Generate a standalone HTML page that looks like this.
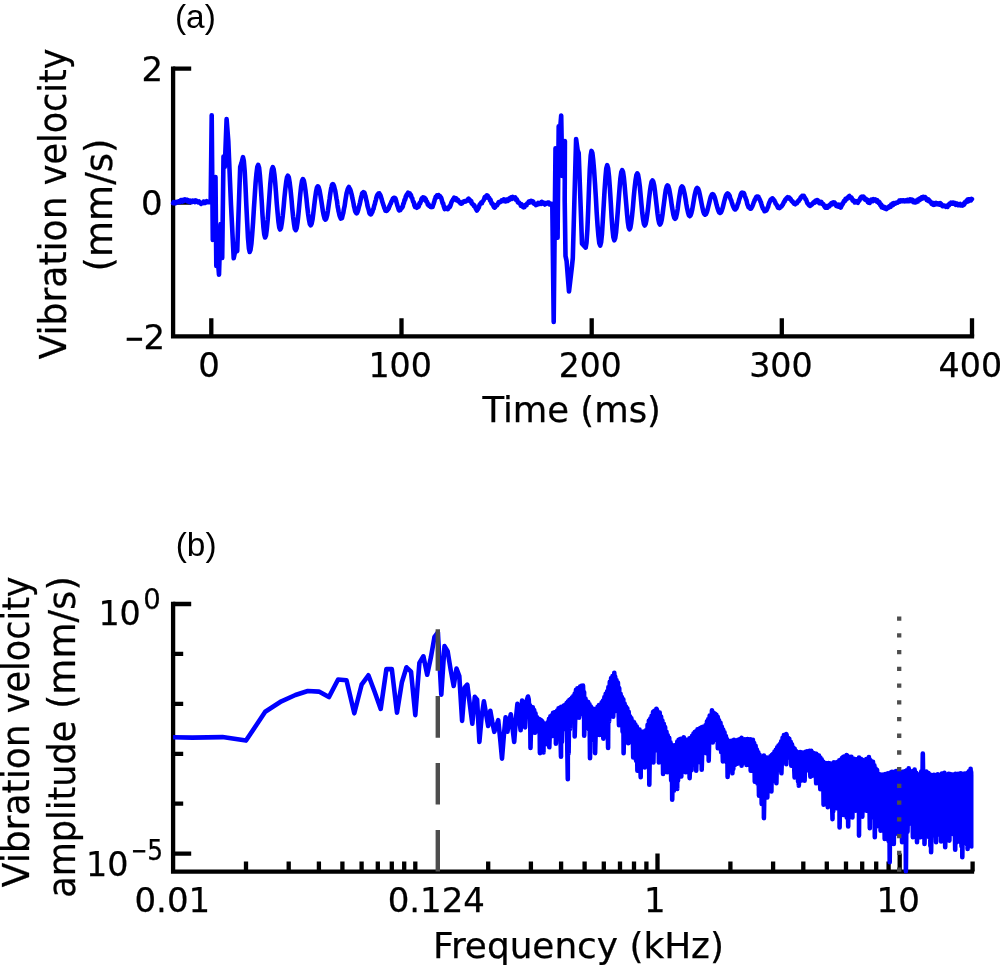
<!DOCTYPE html>
<html lang="en">
<head>
<meta charset="utf-8">
<title>Vibration velocity: time trace and spectrum</title>
<style>
html,body{margin:0;padding:0;background:#fff;}
body{width:1000px;height:965px;overflow:hidden;}
svg{display:block;}
.t{font-family:"DejaVu Sans","Liberation Sans",sans-serif;fill:#000;stroke:#000;stroke-width:0.25;}
.h{font-family:"Liberation Sans","DejaVu Sans",sans-serif;fill:#000;}
.ax{fill:none;stroke:#000;stroke-width:4.3;stroke-linecap:butt;}
.sq{fill:none;stroke:#000;stroke-width:4.3;stroke-linecap:square;stroke-linejoin:miter;}
.d{fill:none;stroke:#0000ff;stroke-width:4.6;stroke-linejoin:round;stroke-linecap:round;}
</style>
</head>
<body>
<svg width="1000" height="965" viewBox="0 0 1000 965">
<rect width="1000" height="965" fill="#fff"/>

<!-- ===== panel (a): time trace ===== -->
<path class="sq" d="M173.1 68.6V336.4H972"/>
<path class="ax" d="M211.3 336.4V318.2M401.5 336.4V318.2M591.7 336.4V318.2M781.8 336.4V318.2M972 336.4V318.2M173.1 68.6H191.2M173.1 202.5H191.2"/>
<path class="d" d="M173.1 203.2 L173.6 202.1 L174.1 203.2 L174.7 203.2 L175.2 202.7 L175.7 203.2 L176.2 201.9 L176.7 202.5 L177.3 202.1 L177.8 201.9 L178.3 201.5 L178.8 202.1 L179.4 202.2 L179.9 201.1 L180.4 201.4 L180.9 200 L181.5 201.1 L182 200.9 L182.5 201.5 L183 201.2 L183.5 200 L184 200.2 L184.5 200.7 L185 199.4 L185.5 200.2 L186 199.8 L186.5 199.8 L187 199.8 L187.5 201.3 L188 200.2 L188.5 200.5 L189.1 201 L189.6 202.1 L190.2 200.6 L190.7 201.5 L191.2 201.6 L191.6 202.1 L192.1 201.9 L192.5 201.8 L193 200.6 L193.5 200.8 L194 200.8 L194.4 201.8 L194.9 202 L195.4 200.4 L195.9 200.5 L196.4 200.8 L196.9 201.1 L197.5 201.8 L198 202.3 L198.5 201.9 L199 201.5 L199.5 202.5 L200.1 202.5 L200.6 203 L201.1 203.9 L201.6 203.3 L202.1 202.8 L202.6 202.9 L203 202.9 L203.5 201.5 L204 203.1 L204.5 202.8 L204.9 203 L205.4 202.8 L205.9 201.9 L206.4 201.9 L206.8 201.2 L207.3 202.3 L210.2 202 L210.7 200 L211.7 115.3 L212.8 240 L214.2 214 L215.5 177 L216.3 266 L217.6 256 L219 274.8 L220.6 224 L222.2 258 L223.5 156.5 L224.8 167 L226.6 119.1 L228.3 141 L231 205 L233.7 258.3 L235.5 249.5 L237.2 251 L240.2 167 L241.5 163 L243 157.2 L243.8 160.8 L244.7 171.1 L245.5 186.5 L246.3 204.6 L247.2 222.7 L248 238.1 L248.9 248.4 L249.7 252 L250.5 249.9 L251.4 243.7 L252.2 234 L253.1 221.9 L253.9 208.5 L254.8 195 L255.6 182.9 L256.5 173.2 L257.3 167 L258.2 164.9 L259.1 167.7 L259.9 175.5 L260.8 187.3 L261.7 201.2 L262.5 215.1 L263.4 226.9 L264.3 234.7 L265.1 237.5 L266 235.4 L266.8 229.3 L267.7 219.9 L268.5 208.5 L269.4 196.2 L270.2 184.8 L271.1 175.4 L271.9 169.3 L272.8 167.2 L273.6 169.1 L274.4 174.5 L275.2 182.8 L276 192.9 L276.8 203.8 L277.7 213.9 L278.5 222.2 L279.3 227.6 L280.1 229.5 L281 227.9 L281.8 223.2 L282.7 216.1 L283.6 207.3 L284.4 197.9 L285.3 189.2 L286.2 182 L287 177.3 L287.9 175.7 L288.8 177.3 L289.6 182.1 L290.5 189.3 L291.4 198.2 L292.2 207.7 L293.1 216.6 L294 223.8 L294.8 228.6 L295.7 230.2 L296.6 228.3 L297.5 222.7 L298.4 214.4 L299.3 204.7 L300.2 194.9 L301.1 186.6 L302 181 L302.9 179.1 L303.8 180.5 L304.6 184.5 L305.5 190.7 L306.4 198.2 L307.2 206.2 L308.1 213.8 L309 219.9 L309.8 223.9 L310.7 225.3 L311.6 223.8 L312.5 219.6 L313.3 213.3 L314.2 205.8 L315.1 198.3 L316 192 L316.9 187.8 L317.8 186.3 L318.6 187.3 L319.5 190.2 L320.3 194.6 L321.2 200.1 L322.1 205.8 L322.9 211.3 L323.8 215.7 L324.6 218.6 L325.5 219.6 L326.3 218.5 L327.1 215.5 L327.9 210.8 L328.7 205.1 L329.6 198.9 L330 195.6 L330.4 192.8 L330.8 190.6 L331.2 188.2 L331.6 186.8 L332 185 L332.4 184.4 L332.8 184.1 L333.2 184.4 L333.6 185.1 L334 186 L334.5 188 L334.9 189.7 L335.3 191.1 L335.7 193.6 L336.1 196.1 L336.5 198.7 L337 201.1 L337.4 204.5 L337.8 207.3 L338.2 209.1 L338.6 211.5 L339 213 L339.4 214.9 L339.9 216.4 L340.3 217.5 L340.7 218.5 L341.1 218.3 L341.5 217.7 L342 218.1 L342.4 216.3 L342.8 214.6 L343.3 212.9 L343.7 210.3 L344.1 208.2 L344.6 206.1 L345 203.3 L345.4 200.4 L345.9 197.4 L346.3 195 L346.7 192.7 L347.2 191.2 L347.6 189.6 L348 188.5 L348.5 187.6 L348.9 187 L349.3 188 L349.8 188.6 L350.2 189.5 L350.6 190.6 L351 192.3 L351.5 193.9 L351.9 195.5 L352.3 197.9 L352.8 200 L353.2 201.9 L353.6 203.9 L354 206.3 L354.5 208 L354.9 210.1 L355.3 211.5 L355.7 212.1 L356.2 213 L356.6 213.4 L357 213 L357.5 212 L357.9 210.7 L358.3 209.6 L358.7 207.8 L359.1 206.1 L359.6 204.5 L360 202.8 L360.4 200.7 L360.9 198.4 L361.3 196.8 L361.7 195.3 L362.1 193.4 L362.5 192.9 L363 192.7 L363.4 192.2 L363.8 192.5 L364.2 192.5 L364.6 193.2 L365 194.8 L365.4 195.8 L365.8 197.8 L366.2 199.7 L366.6 201 L367 202.9 L367.4 205.4 L367.8 207 L368.2 208.2 L368.6 209.7 L369 211.2 L369.4 212.9 L369.8 213.7 L370.2 213.4 L370.6 214.4 L371 214.3 L371.4 213.8 L371.8 212.7 L372.3 212.2 L372.7 210.6 L373.1 209.4 L373.5 208.9 L373.9 207.1 L374.3 205.4 L374.8 204.2 L375.2 202.1 L375.6 201 L376 199.5 L376.4 197.5 L376.8 196.4 L377.2 195.3 L377.7 194.5 L378.1 194.1 L378.5 193.5 L378.9 193.4 L379.3 193.4 L379.7 194.4 L380.1 194.6 L380.5 195.5 L380.9 196.8 L381.3 198.2 L381.7 199.2 L382.1 201.1 L382.5 202.2 L383 203.7 L383.4 205.1 L383.8 206 L384.2 207.6 L384.6 208.5 L385 209 L385.4 210.6 L385.8 210.2 L386.2 210.8 L386.6 210.9 L387 210.5 L387.4 209.8 L387.9 209.6 L388.3 208.9 L388.7 208.4 L389.1 206.8 L389.5 206.3 L389.9 205 L390.4 204 L390.8 203.5 L391.2 202.2 L391.6 201.3 L392 200.6 L392.4 200 L392.8 198.8 L393.3 198.5 L393.7 197.9 L394.1 197.8 L394.5 197.8 L394.9 198 L395.4 198.5 L395.8 199.6 L396.2 201.2 L396.6 202.6 L397.1 204.4 L397.5 206 L397.9 207 L398.4 208.4 L398.8 210 L399.2 210.3 L399.6 210 L400.1 209.4 L400.5 209.9 L400.9 208.6 L401.3 208.5 L401.7 207.3 L402.1 207.8 L402.5 207 L402.9 206.2 L403.3 203.5 L403.7 203.5 L404.1 202.1 L404.5 199.8 L404.9 200.2 L405.3 199.2 L405.7 196.6 L406.1 197.1 L406.5 195.2 L406.9 194.5 L407.3 195.1 L407.7 194.2 L408.1 192.7 L408.5 193.1 L408.9 193.4 L409.3 193.2 L409.7 193.4 L410.2 194.2 L410.6 195.8 L411 195.1 L411.4 197.2 L411.8 197.9 L412.2 198.1 L412.6 199.8 L413.1 201.5 L413.5 202.4 L413.9 202.4 L414.3 205.3 L414.7 205.7 L415.1 206.9 L415.6 205.5 L416 206.4 L416.4 206.1 L416.8 207.8 L417.2 206.5 L417.6 206.1 L418.1 206.2 L418.5 206.7 L418.9 205.8 L419.3 203.9 L419.7 202.8 L420.1 203.5 L420.6 201.9 L421 201.3 L421.4 199.3 L421.8 198.5 L422.2 199.3 L422.7 198.3 L423.1 197.4 L423.5 199 L423.9 198.5 L424.4 199 L424.8 197.9 L425.2 200 L425.7 199 L426.1 201.3 L426.5 201.2 L427 201.7 L427.4 203 L427.8 204.6 L428.3 204 L428.7 204.5 L429.1 206 L429.6 206 L430 206.2 L430.4 206.7 L430.9 206.6 L431.3 207.1 L431.7 207 L432.2 206.7 L432.6 206.8 L433.1 205 L433.5 204.2 L434 202.4 L434.4 201.4 L434.8 199.4 L435.3 198.6 L435.7 196.9 L436.2 197.6 L436.6 196.4 L437.1 195.3 L437.5 195.6 L438 196.7 L438.5 195 L439.1 196.5 L439.6 195.9 L440.1 196.3 L440.6 197.2 L441.1 197.7 L441.6 199.3 L442.1 201.1 L442.6 203.1 L443.2 203.4 L443.7 206.1 L444.2 207.6 L444.7 209.1 L445.2 208.6 L445.8 208.5 L446.3 207.9 L446.8 208 L447.3 207.8 L447.8 209.1 L448.4 207.9 L448.9 207.6 L449.4 206.4 L449.8 207 L450.3 206 L450.8 204.6 L451.3 202.7 L451.8 201.6 L452.2 200.9 L452.7 200.5 L453.2 199.1 L453.7 198.9 L454.1 197.7 L454.6 198.4 L455.1 198.9 L455.6 198.5 L456 198.3 L456.5 200.3 L457 199.4 L457.5 200 L458 199.8 L458.4 201 L458.9 201.7 L459.4 202.2 L459.9 202.1 L460.3 203.2 L460.8 202.6 L461.3 203.6 L461.8 202.9 L462.3 203.1 L462.9 202 L463.4 201.5 L463.9 201.7 L464.4 201.2 L465 201.6 L465.5 201.1 L466 201.3 L466.5 200.7 L467 200.5 L467.6 200.5 L468.1 199.2 L468.6 198.7 L469.1 200.7 L469.6 199.5 L470.2 201.3 L470.7 201.7 L471.2 201 L471.7 203.3 L472.2 204 L472.8 204 L473.3 205 L473.8 205.9 L474.3 205.3 L474.8 206.8 L475.3 207.5 L475.9 209 L476.4 209.7 L476.9 210.5 L477.4 209.3 L477.9 209.2 L478.4 208 L478.9 207.3 L479.3 205.6 L479.8 204.5 L480.3 204 L480.8 203.7 L481.3 202.5 L481.8 203.3 L482.3 202 L482.8 201.4 L483.3 200.6 L483.8 200 L484.2 198.9 L484.7 197.2 L485.2 198.1 L485.7 197.3 L486.2 196 L486.7 195.4 L487.2 196.3 L487.7 195.7 L488.2 197.8 L488.6 197.5 L489.1 197.8 L489.6 198.8 L490.1 200.5 L490.6 200 L491.1 202 L491.6 203.4 L492.1 203.2 L492.6 203.8 L493 204.9 L493.5 206.2 L494 207.2 L494.5 207.7 L495 207.3 L495.5 205.5 L496.1 205.2 L496.6 204.8 L497.1 205.3 L497.6 203.9 L498.1 203.9 L498.6 202.3 L499.1 201.9 L499.7 201.8 L500.2 202.2 L500.7 201.7 L501.2 201.5 L501.7 200.5 L502.2 200.8 L502.8 200.5 L503.3 200.4 L503.8 199.5 L504.3 201.1 L504.8 199.7 L505.3 201.4 L505.9 201.4 L506.4 199.5 L506.9 200.5 L507.4 201 L507.9 201 L508.4 199.6 L508.9 198.9 L509.3 198.5 L509.8 199.7 L510.3 197.9 L510.8 198.4 L511.3 197.3 L511.8 198 L512.3 198.7 L512.8 196.9 L513.2 198.2 L513.7 197.4 L514.2 198 L514.7 197.5 L515.2 197.3 L515.7 199.6 L516.2 199.5 L516.8 199.4 L517.3 200.3 L517.8 202.2 L518.3 202.6 L518.8 202.7 L519.3 202.8 L519.9 203.7 L520.4 204.1 L520.9 205.7 L521.4 204.2 L521.9 206.1 L522.5 206.5 L523 205.3 L523.5 207.3 L524 207.1 L524.5 207.1 L525 205.3 L525.5 205 L525.9 204.6 L526.4 205.4 L526.9 204 L527.4 203.1 L527.9 202.9 L528.4 202.3 L528.9 201.5 L529.3 201.3 L529.8 202.5 L530.3 201.1 L530.8 202.1 L531.3 200.9 L531.8 201.1 L532.4 201.9 L532.9 201.4 L533.4 202 L533.9 203.6 L534.4 203.8 L535 204.1 L535.5 204.1 L536 205.1 L536.5 205 L537 204.1 L537.5 204.4 L538.1 202.9 L538.6 204.2 L539.1 203.6 L539.6 204 L540.1 203.6 L540.7 202.7 L541.2 202.1 L541.7 203.8 L542.2 201.9 L542.7 202.8 L543.2 202.7 L543.8 202.8 L544.3 203.8 L544.8 204.5 L545.3 203.2 L545.8 203.9 L546.3 203.1 L546.8 203.6 L547.4 203.1 L547.9 202.6 L548.4 202.5 L548.9 202.7 L549.4 204.3 L550 203.6 L551.5 203.7 L552.3 204.5 L553.7 322 L555.5 148.3 L557.6 237.8 L558.7 126.2 L559.8 133 L561.2 115.5 L562.3 176 L564.9 141.1 L564.7 200 L565.5 256 L566.6 261 L569 291.5 L572 266 L572.8 258 L576.1 139 L577.6 150 L578.7 153 L582 243.7 L585.7 247.6 L586.5 242.8 L587.4 229.4 L588.2 210 L589 188.5 L589.8 169.1 L590.7 155.7 L591.5 150.9 L592.4 153.2 L593.2 159.9 L594.1 170.4 L595 183.6 L595.9 198.2 L596.7 212.8 L597.6 226 L598.5 236.5 L599.3 243.2 L600.2 245.5 L601.1 242.4 L602 233.7 L602.8 220.7 L603.7 205.3 L604.6 190 L605.5 177 L606.3 168.3 L607.2 165.2 L608.1 168.1 L609 176.2 L609.9 188.4 L610.8 202.8 L611.6 217.1 L612.5 229.3 L613.4 237.4 L614.3 240.3 L615.2 238.2 L616.1 232.1 L616.9 222.8 L617.8 211.3 L618.7 199.1 L619.6 187.7 L620.4 178.3 L621.3 172.2 L622.2 170.1 L623 171.9 L623.8 177 L624.6 184.9 L625.4 194.6 L626.3 204.9 L627.1 214.6 L627.9 222.5 L628.7 227.6 L629.5 229.4 L630.4 227.7 L631.2 222.8 L632.1 215.4 L633 206.2 L633.8 196.5 L634.7 187.3 L635.6 179.9 L636.4 175 L637.3 173.3 L638.1 174.9 L638.9 179.4 L639.8 186.3 L640.6 194.9 L641.4 203.9 L642.2 212.4 L643.1 219.4 L643.9 223.9 L644.7 225.5 L645.6 224.1 L646.4 220.2 L647.3 214.2 L648.2 206.9 L649 199 L649.9 191.7 L650.8 185.7 L651.6 181.8 L652.5 180.4 L653.3 181.7 L654.2 185.6 L655 191.4 L655.8 198.6 L656.7 206.3 L657.5 213.5 L658.3 219.3 L659.2 223.2 L660 224.5 L660.8 223.3 L661.7 219.9 L662.5 214.7 L663.3 208.3 L664.2 201.5 L665 195.1 L665.8 189.9 L666.7 186.5 L667.5 185.3 L668.3 186.3 L669.2 189.2 L670 193.7 L670.9 199.1 L671.7 205 L672.6 210.4 L673.4 214.9 L674.3 217.8 L675.1 218.8 L676 217.6 L676.8 214.1 L677.7 208.8 L678.5 202.6 L679.4 196.4 L680.3 191.1 L681.1 187.6 L682 186.4 L682.9 187.3 L683.7 189.9 L684.6 193.8 L685.5 198.7 L686.3 203.9 L687.2 208.8 L688.1 212.7 L688.9 215.3 L689.8 216.2 L690.6 215.3 L691.4 212.9 L692.3 209.1 L693.1 204.5 L693.9 199.6 L694.7 195 L695.6 191.2 L696.4 188.8 L697.2 187.9 L698.1 188.7 L699 191 L699.8 194.6 L700.7 199 L701.6 203.6 L702.5 208 L703.3 211.6 L704.2 213.9 L705.1 214.7 L705.9 214.1 L706.8 212.3 L707.6 209.5 L708.4 206.2 L709.3 202.6 L710.1 199.2 L710.9 196.5 L711.8 194.7 L712.6 194.1 L713.4 194.7 L714.3 196.3 L715.1 198.8 L715.9 201.9 L716.7 205.2 L717.6 208.3 L718.4 210.8 L719.2 212.4 L720 213 L720.9 212.4 L721.7 210.7 L722.6 208.1 L723.4 204.9 L724.2 201.5 L725.1 198.3 L725.9 195.7 L726.8 194 L727.6 193.4 L728.4 193.9 L729.3 195.3 L729.7 196 L730.1 197.8 L730.6 199.2 L731 199.9 L731.4 201 L731.8 202.4 L732.2 203.6 L732.7 205.2 L733.1 206 L733.5 207.2 L733.9 207.9 L734.4 208.9 L734.8 209.4 L735.2 209.5 L735.6 209 L736 208.7 L736.4 208.1 L736.8 207.2 L737.2 206 L737.6 204.6 L738 203.5 L738.4 202.8 L738.9 200.5 L739.3 199.4 L739.7 198.1 L740.1 197 L740.5 195.2 L740.9 194.1 L741.3 193.4 L741.7 192.8 L742.1 192.6 L742.5 192.9 L742.9 193 L743.4 193.3 L743.8 193.1 L744.2 193.8 L744.6 195.6 L745.1 196.8 L745.5 197.7 L745.9 199.2 L746.4 200 L746.8 201.8 L747.2 203.7 L747.6 204.9 L748.1 206 L748.5 207.2 L748.9 207.2 L749.3 207.7 L749.8 208 L750.2 208.6 L750.6 208.6 L751.1 208.6 L751.5 207.7 L752 207 L752.4 206.1 L752.9 204.9 L753.3 203.8 L753.8 202.1 L754.2 201.7 L754.6 200 L755.1 199.8 L755.5 198.5 L756 197.5 L756.4 196.7 L756.9 196.6 L757.3 196.7 L757.7 197 L758.1 196.6 L758.5 197 L758.9 198 L759.3 198.9 L759.7 199.5 L760.1 200.3 L760.5 201.7 L760.9 202.2 L761.3 203.7 L761.7 204.9 L762.1 206.5 L762.5 207.2 L762.9 208.5 L763.3 208.9 L763.7 209.5 L764.1 210 L764.5 211.2 L764.9 211.1 L765.3 210.9 L765.7 210.4 L766.1 210.6 L766.6 210.1 L767 209.2 L767.4 208 L767.8 207.4 L768.2 206.5 L768.6 204.6 L769.1 203.2 L769.5 202.3 L769.9 201.4 L770.3 200.6 L770.7 199.5 L771.2 199.4 L771.6 199.1 L772 198.6 L772.4 198.4 L772.8 199.3 L773.2 199.1 L773.6 200 L774 200 L774.4 200.6 L774.8 201.9 L775.2 202.2 L775.6 203.6 L776 203.9 L776.4 204.4 L776.8 205.1 L777.2 205.9 L777.6 206.8 L778 207.5 L778.4 207.1 L778.8 207.5 L779.2 207.4 L779.6 208.1 L780 207.1 L780.4 206.7 L780.8 206.5 L781.2 206.3 L781.6 206.4 L782 205.7 L782.4 205 L782.8 204.6 L783.2 203.8 L783.7 202.5 L784.1 201.6 L784.5 201.7 L784.9 200.8 L785.3 199.5 L785.7 199.5 L786.1 198.8 L786.5 198.3 L786.9 197.9 L787.3 197.5 L787.7 197.2 L788.1 197.4 L788.5 197.6 L789 198.3 L789.5 197.8 L789.9 199 L790.3 198.7 L790.8 199.4 L791.2 200.4 L791.7 201 L792.2 201.2 L792.6 201.4 L793 202.4 L793.5 202.8 L794 203.6 L794.4 203.3 L794.8 203.5 L795.3 204.2 L795.7 203.2 L796.2 203.5 L796.6 203.5 L797 203.2 L797.5 201.9 L797.9 201.4 L798.3 200.8 L798.8 201 L799.2 199.7 L799.6 199.5 L800.1 199 L800.5 197.8 L800.9 197.2 L801.4 197.4 L801.8 196.7 L802.2 196 L802.7 196.3 L803.1 195.8 L803.5 196 L803.9 195.9 L804.3 197.1 L804.8 197.8 L805.2 198.3 L805.6 199.4 L806 199.4 L806.4 200.5 L806.8 201.6 L807.3 203 L807.7 203.8 L808.1 204 L808.5 204.4 L808.9 205.1 L809.3 205.3 L809.8 205.9 L810.3 204.5 L810.8 205.4 L811.3 204.9 L811.8 204.7 L812.3 204.2 L812.8 203.5 L813.3 202.5 L813.8 202.2 L814.3 202 L814.9 202.5 L815.4 200.7 L815.9 200.6 L816.4 201.5 L816.9 200.1 L817.4 200.1 L817.8 200.4 L818.2 201.8 L818.7 201.7 L819.2 203.1 L819.6 202.9 L820 203.2 L820.5 201.7 L821 201.7 L821.4 202.1 L821.9 203.3 L822.4 204.1 L822.9 203.9 L823.3 204.1 L823.8 205.1 L824.3 206.1 L824.7 206.8 L825.2 207.6 L825.7 207.8 L826.2 207.4 L826.8 206.2 L827.3 207.7 L827.8 206.2 L828.3 206.5 L828.9 205.8 L829.4 206.3 L829.9 204.7 L830.4 204.3 L830.9 203.8 L831.5 203.1 L832 204.3 L832.5 203.3 L833 202.5 L833.5 202.3 L834 203.8 L834.4 203.1 L834.8 202.8 L835.3 204.3 L835.8 204.5 L836.2 205.8 L836.6 204.4 L837.1 205.7 L837.6 206.4 L838 206.4 L838.5 206.6 L839 204.7 L839.4 205.5 L839.9 205.3 L840.3 205.7 L840.8 207.6 L841.3 205.9 L841.8 205.7 L842.3 203.7 L842.8 203.9 L843.4 202.2 L843.9 201.1 L844.4 201.4 L844.9 201 L845.5 198.9 L846 199.6 L846.6 199.3 L847.1 198.1 L847.7 197.9 L848.3 196.9 L848.8 196.4 L849.4 196 L849.9 197.2 L850.5 197.9 L851 197.5 L851.5 197.6 L852.1 199 L852.6 200.5 L853.2 200.2 L853.7 201.2 L854.2 201.1 L854.7 202.5 L855.2 202.1 L855.8 201.2 L856.3 201.4 L856.8 202.1 L857.3 202.5 L857.8 202.8 L858.3 200.9 L858.9 200.3 L859.4 200.6 L859.9 199.1 L860.5 197.9 L861 197.1 L861.6 198.2 L862.2 196.7 L862.9 197.2 L863.5 196.7 L864 197.3 L864.5 198.7 L864.9 199.5 L865.4 198.6 L865.9 198.7 L866.4 200.3 L866.8 199.6 L867.3 199.7 L867.8 202 L868.2 201.4 L868.7 202.7 L869.2 202.3 L869.7 202.9 L870.2 201.5 L870.8 200.4 L871.3 199.7 L871.8 200.6 L872.3 200.7 L872.9 201.1 L873.4 199.2 L873.9 200.4 L874.3 199.8 L874.8 200.1 L875.3 199.4 L875.8 199.7 L876.2 200.4 L876.7 201.5 L877.2 200.1 L877.6 201.1 L878.1 202 L878.6 202.9 L879 201.8 L879.5 202.1 L879.9 204.4 L880.4 205.2 L880.8 204.8 L881.2 204.6 L881.7 207.2 L882.2 206.3 L882.6 207.6 L883.1 207.3 L883.6 207.9 L884.1 206.8 L884.5 208.4 L885 207.3 L885.5 207.9 L886 209 L886.4 209.1 L886.9 207.9 L887.4 208.1 L887.9 208.1 L888.3 208 L888.8 207.3 L889.2 206.3 L889.7 206.2 L890.2 206.9 L890.6 206.9 L891.1 204.7 L891.5 205.5 L892 205.5 L892.5 203.7 L893 205.1 L893.6 203.2 L894.1 203.9 L894.6 203.6 L895.2 203.6 L895.7 202.7 L896.2 202.7 L896.7 202.9 L897.2 202.3 L897.8 202.6 L898.3 202 L898.8 201.7 L899.3 200.6 L899.8 201.6 L900.4 201.1 L900.9 200.3 L901.4 201.2 L901.9 201.3 L902.4 200.7 L902.9 200.3 L903.5 201 L904 200.4 L904.5 200.5 L905 201.3 L905.5 200.7 L906 201.3 L906.5 201.3 L907.1 200.1 L907.6 201.2 L908.1 199.9 L908.6 201.1 L909.2 201.1 L909.7 200.4 L910.2 199.4 L910.8 200.3 L911.3 199.9 L911.8 201 L912.2 199.6 L912.7 201.4 L913.1 202 L913.6 201.7 L914 202 L914.5 200.8 L914.9 202.5 L915.4 201.6 L915.9 202.4 L916.3 202.1 L916.8 200.3 L917.3 201.4 L917.8 201.5 L918.2 199.4 L918.7 199.6 L919.2 200.2 L919.6 198.6 L920.1 199.8 L920.6 198.2 L921.1 199.1 L921.6 197.3 L922 197.8 L922.5 198.6 L923 196.9 L923.5 196.9 L924 197.3 L924.5 197.3 L925.1 197.1 L925.6 197.8 L926.1 198.1 L926.7 200 L927.2 199.8 L927.8 200.6 L928.3 199.4 L928.8 201.2 L929.3 200.2 L929.9 201.5 L930.4 202.2 L930.9 202.1 L931.5 203.6 L932 203.4 L932.5 203.9 L933 204.6 L933.5 203 L934 204.9 L934.5 204.2 L935.1 203.6 L935.6 204.2 L936.1 202.9 L936.6 204.2 L937.1 203.6 L937.7 203.3 L938.2 204.4 L938.7 203.9 L939.2 203.4 L939.8 204.6 L940.3 203.2 L940.8 204.9 L941.3 204 L941.8 205 L942.3 206 L942.8 205.5 L943.4 206.1 L943.9 205.8 L944.4 205.5 L944.9 206 L945.4 206.1 L945.9 206.9 L946.5 206.3 L947 206.3 L947.5 206.9 L948 205.1 L948.5 204.9 L949 205.4 L949.5 203.7 L950.1 203.3 L950.6 203.6 L951.1 202.7 L951.6 203.2 L952.1 202.8 L952.7 203.6 L953.2 203.5 L953.7 202.7 L954.2 203.8 L954.7 203.6 L955.3 203.1 L955.8 204.9 L956.3 203.7 L956.8 203.6 L957.2 203.5 L957.7 204.8 L958.2 205.3 L958.6 205.2 L959.1 204.6 L959.6 204.4 L960.1 204 L960.5 205.5 L961 205.4 L961.5 204.8 L961.9 205.2 L962.4 204.6 L962.8 205.5 L963.3 204.9 L963.8 203.5 L964.2 204.5 L964.7 202.4 L965.1 203.1 L965.6 202.5 L966.1 201.7 L966.5 200.8 L967 201.8 L967.5 199.7 L967.9 200.6 L968.4 201.2 L968.8 199.3 L969.3 199.2 L969.7 200 L970.2 199.7 L970.6 200 L971 200.3 L971.5 198.9 L971.9 199.2"/>
<text class="h" x="175" y="28.3" font-size="33.4">(a)</text>
<text class="t" x="141.4" y="81.3" font-size="34" textLength="21.6" lengthAdjust="spacingAndGlyphs">2</text>
<text class="t" x="141" y="215.4" font-size="34" textLength="21.6" lengthAdjust="spacingAndGlyphs">0</text>
<text class="t" x="124.2" y="350.2" font-size="34" textLength="20.3" lengthAdjust="spacingAndGlyphs">−</text>
<text class="t" x="143.6" y="349.1" font-size="34" textLength="21.6" lengthAdjust="spacingAndGlyphs">2</text>
<text class="t" x="209.1" y="376.8" font-size="34" text-anchor="middle" textLength="21.6" lengthAdjust="spacingAndGlyphs">0</text>
<text class="t" x="400.2" y="376.8" font-size="34" text-anchor="middle" textLength="63.5" lengthAdjust="spacingAndGlyphs">100</text>
<text class="t" x="590.2" y="376.8" font-size="34" text-anchor="middle" textLength="62.8" lengthAdjust="spacingAndGlyphs">200</text>
<text class="t" x="780.9" y="376.8" font-size="34" text-anchor="middle" textLength="63.5" lengthAdjust="spacingAndGlyphs">300</text>
<text class="t" x="938.6" y="376.8" font-size="34" textLength="63.5" lengthAdjust="spacingAndGlyphs">400</text>
<text class="t" x="571.7" y="422.3" font-size="35.5" text-anchor="middle" textLength="178.5" lengthAdjust="spacingAndGlyphs">Time (ms)</text>
<text class="t" transform="translate(66.2 277.9) rotate(-90)" font-size="37" text-anchor="middle" textLength="162.8" lengthAdjust="spacingAndGlyphs">Vibration</text>
<text class="t" transform="translate(66.2 116.9) rotate(-90)" font-size="37" text-anchor="middle" textLength="136.7" lengthAdjust="spacingAndGlyphs">velocity</text>
<text class="t" transform="translate(112.4 205) rotate(-90)" font-size="37" text-anchor="middle" textLength="133" lengthAdjust="spacingAndGlyphs">(mm/s)</text>

<!-- ===== panel (b): amplitude spectrum ===== -->
<path class="sq" d="M173.1 604V871.6H972"/>
<path class="ax" d="M173.1 604H191.2M173.1 653.9H183.2M173.1 703.8H183.2M173.1 753.8H183.2M173.1 803.7H183.2M173.1 853.6H191.2M246 871.6V861.6M288.7 871.6V861.6M318.9 871.6V861.6M342.4 871.6V861.6M361.6 871.6V861.6M377.8 871.6V861.6M391.8 871.6V861.6M404.2 871.6V861.6M415.3 871.6V861.6M488.2 871.6V861.6M530.9 871.6V861.6M561.1 871.6V861.6M584.6 871.6V861.6M603.8 871.6V861.6M620 871.6V861.6M634 871.6V861.6M646.4 871.6V861.6M657.5 871.6V853.6M730.4 871.6V861.6M773.1 871.6V861.6M803.3 871.6V861.6M826.8 871.6V861.6M846 871.6V861.6M862.2 871.6V861.6M876.2 871.6V861.6M888.6 871.6V861.6M899.7 871.6V853.6M972.6 871.6V861.6M972.6 871.6V861.6"/>
<clipPath id="cb"><rect x="173.1" y="580" width="800.4" height="300"/></clipPath>
<path class="d" clip-path="url(#cb)" d="M173.1 737.2 L192.3 737.6 L222.5 737.1 L246 740.6 L265.2 711.7 L281.4 701.3 L295.4 695 L307.8 691 L318.9 691.6 L328.9 697.1 L338.1 679.5 L346.5 680.3 L354.3 713.3 L361.6 684.7 L368.4 675.3 L374.7 692 L380.7 708.9 L386.4 669.1 L391.8 669.1 L397 712.7 L401.9 682.2 L406.5 667.3 L411 671.6 L415.3 715.1 L419.4 662.9 L423.4 656.3 L427.2 674.7 L430.9 657.3 L434.5 636.8 L437.9 632.4 L441.3 694.7 L444.5 646.1 L447.6 651.2 L450.7 670 L453.7 686 L456.5 668.6 L459.3 676 L462.1 720.9 L464.7 687.5 L467.3 684.6 L469.9 705 L472.3 723.8 L474.8 696.9 L477.1 699.8 L479.4 741.9 L481.7 716 L483.9 701.3 L486.1 714 L488.2 726 L490.3 710.7 L492.3 722 L494.3 731.8 L496.3 726 L498.2 720.1 L500.1 738 L502 758.6 L503.8 736 L505.6 717.2 L507.4 731.8 L509.1 722 L510.8 714.3 L512.5 728 L514.2 741.9 L515.8 720 L517.4 703.9 L519 716 L520.6 730.3 L522.1 700.6 L523.6 712 L525.1 727.4 L526.6 701 L528 696.5 L528.7 699.4 L529.4 710.7 L530.1 705.4 L530.5 748 L531.5 707.6 L532.2 731.6 L532.8 707.4 L533.5 732.1 L534.2 710.1 L534.8 732.8 L535.5 713.3 L536.2 731.7 L536.9 717 L537.6 726.3 L538.2 718.8 L538.9 729.8 L539.6 719.1 L539.9 753.1 L540.9 720 L541.6 744.2 L542.3 721.3 L543.5 752.4 L543.6 723.1 L544.3 743.2 L545 723.7 L545.7 739.5 L546.3 725.6 L547 744.2 L547.7 722.3 L548.4 732.2 L549 718.8 L549.3 747.3 L550.4 716.2 L551.1 724.7 L551.7 715.2 L552.6 735.9 L553.1 712.7 L553.8 723.4 L554.4 712.2 L555.1 734.3 L555.8 712.2 L555.9 743.7 L557.1 710.5 L558.4 733.9 L558.5 708.4 L559.2 735.9 L559.8 707.7 L561 756.8 L561.2 706.9 L561.9 742 L562.5 707 L563.2 724.2 L563.9 705.6 L563.9 723.4 L565.2 704.7 L565.9 729.3 L566.6 703.1 L567.8 779.2 L567.9 701.6 L568.6 753.4 L569.3 700 L570 728.9 L570.6 699.1 L571.1 719 L572 697.6 L572.7 709 L573.3 696.1 L574 707.6 L574.7 693.6 L574.7 736.4 L576 689.8 L577 714.9 L577.4 688.3 L578.1 698.4 L578.7 688.5 L579.1 717.6 L580.1 686.6 L580.8 697 L581.4 685.7 L581.5 713.9 L583 685.5 L583.5 699.9 L584.1 692.1 L584.2 735.7 L585.5 698.6 L586.2 719.3 L586.8 701.2 L587.1 723.4 L588.2 702 L588.9 729.3 L589.5 704.2 L590 758.2 L590.9 706.6 L591.6 733.9 L592.2 708.3 L592.5 729.2 L593.6 708.7 L594.3 740.2 L594.9 710.7 L595.1 753.1 L596.3 709.4 L597 723.8 L597.6 706.7 L598.3 721.2 L599 705 L599.4 735 L600.3 704.6 L601 731.1 L601.7 702.4 L602.4 732.1 L603 700.6 L603.3 738.6 L604.4 697.1 L605.1 719.1 L605.7 693.8 L606.4 734.8 L607.1 691.2 L608.1 748 L608.4 687.1 L609.1 721.4 L609.8 681.9 L610.5 710.8 L611.1 678 L611.8 715.1 L612.5 676 L613.2 716.7 L614.3 672.7 L614.5 700.2 L615.2 676.6 L615.9 705.9 L616.5 680 L617.2 711.1 L617.9 682.5 L619 725.3 L619.2 688.1 L619.9 715.6 L620.6 693.7 L621.3 720.8 L621.9 697 L622.6 731.6 L623.3 699.2 L623.6 753.3 L624.6 703.5 L625.3 726.6 L626 706.6 L626.7 727.9 L627.3 708.2 L628.2 743.3 L628.7 711.7 L629.4 740.4 L630 716.2 L630.7 732.8 L631.4 718.4 L632.1 742.8 L632.7 721.2 L633.2 757.4 L634.1 722.2 L634.8 749.8 L635.4 724.6 L636.1 760.6 L636.8 726.6 L637.4 770.7 L638.1 729.5 L638.8 755.2 L639.5 729.6 L640.7 777.3 L640.8 731.9 L641.5 761.6 L642.2 732.2 L642.9 762.6 L643.5 731.6 L644.8 767.4 L644.9 732.2 L645.6 762.2 L646.2 730.1 L646.9 764.1 L647.6 724.9 L648.3 760.9 L648.9 720.5 L649.3 784.8 L650.3 718.6 L651 748.6 L651.6 715.9 L652.3 742.8 L653 712 L653.4 762.4 L654.3 710.8 L655 750.5 L656.4 708.7 L656.4 737.2 L657 709.9 L658.1 740.8 L658.4 712.2 L658.9 762.4 L659.7 712.5 L660.4 749.3 L661.1 716.5 L661.8 760.5 L662.4 720.5 L663.1 774 L663.8 723.8 L664.5 755.2 L665.1 727.1 L665.8 753.2 L666.5 731.8 L667.2 772.3 L667.8 735.3 L668.5 771.3 L669.2 737.9 L669.9 771.2 L670.5 742.4 L671.2 780.5 L671.9 744.7 L672.2 799.7 L673.2 747.2 L673.9 790.6 L674.6 748.1 L675.3 774.8 L675.9 744.7 L677.2 788.9 L677.3 741.6 L678 780.7 L678.6 739.7 L679.3 764.9 L680 739 L681.3 776.5 L681.3 738.7 L682 765.7 L683.8 737.3 L683.4 759.7 L684 737.8 L684.7 759.2 L685.4 739.8 L685.5 772.3 L686.7 740.1 L687.4 760.2 L688.1 741 L688.8 761.5 L689.4 738.4 L689.6 778.1 L690.8 737.9 L691.5 770.3 L692.1 735.9 L692.8 762.6 L693.5 733.5 L694.2 764.5 L694.8 732 L695.5 756.6 L696.2 731.1 L696.2 770.7 L697.5 729.4 L698.2 757.7 L698.9 729.7 L699.6 762.3 L700.2 728 L700.9 760.8 L701.6 727.4 L701.7 769.8 L702.9 726.7 L703.6 751.1 L704.3 727 L704.5 752.4 L705.6 725.1 L706.3 753.3 L707 721.4 L707.7 749.8 L708.3 719 L708.7 760.7 L709.7 715.6 L710.4 739.5 L712 710.2 L711.7 741.4 L712.4 711.9 L712.8 742.5 L713.7 712.7 L714.4 738.6 L715.1 713.8 L715.8 739.7 L716.4 714.8 L717.1 738.2 L717.8 717 L717.8 748.3 L719.1 720.3 L719.8 740.2 L720.5 722.8 L721.2 752.1 L721.8 726.6 L722.9 761.4 L723.2 729.6 L723.9 752.1 L724.5 732.4 L725.2 758.8 L725.9 736 L726.6 762.2 L727.2 739.2 L727.6 776.9 L728.6 742.1 L729.3 763 L729.9 741.5 L730.6 769.9 L731.3 740.8 L732.4 773.3 L732.6 740.9 L733.3 768.9 L734 739.9 L734.9 765 L735.3 740.5 L736 756.2 L736.7 740.6 L737.4 763.8 L738 739.7 L738.7 755.7 L739.4 739.4 L740.1 759.5 L741.6 737.9 L741.6 765.8 L742.1 739.1 L742.8 759 L743.4 739.2 L744.1 762.4 L744.8 739.2 L745.5 757.9 L746.1 740.2 L746.5 765 L747.5 739.1 L748.2 762.5 L748.8 739.7 L749.5 765 L750.2 739.4 L750.7 770.8 L751.5 741.2 L752.2 764.3 L752.9 739.8 L753.6 765.7 L754.2 743 L754.8 781.6 L755.6 745.7 L756.3 775.1 L756.9 749.6 L757.6 783.7 L758.3 752.2 L759 795.7 L759.6 754.8 L760.3 785.4 L761 757.5 L761.7 803.9 L762.3 756.8 L763 793.8 L763.9 755.6 L763.9 818.1 L765 757.7 L765.7 792.3 L766.4 757.6 L767.3 797.4 L767.7 757.8 L768.4 790.5 L769.1 757.9 L769.8 786.6 L770.4 756.2 L771.4 791.5 L771.8 755.1 L772.5 778 L773.1 753.9 L773.8 777.3 L774.5 751.5 L775.2 781.2 L775.8 749.9 L776.4 783.3 L777.2 747.4 L777.9 770.1 L778.5 745.6 L779.2 766.2 L779.9 744.1 L780.6 765.8 L781.2 741.4 L781.4 773.3 L782.6 737.7 L783.3 760.8 L783.9 735.1 L784.6 758.9 L786.3 734.1 L786.3 764.2 L786.6 734.7 L787.3 753.6 L788 737.7 L788.7 756.4 L789.3 738.8 L790 757.6 L790.7 741.7 L791.3 765.8 L792 744.4 L792.7 766 L793.4 747.5 L794.6 777.5 L794.7 748.8 L795.4 777 L796.1 751 L796.8 770.3 L797.4 752.3 L798.1 781.7 L798.8 752.9 L798.8 785.7 L800.1 752.1 L800.8 780.6 L801.5 753.4 L802.2 772 L802.8 752.6 L803.5 780.1 L804.2 753.2 L804.6 780.8 L805.5 751.8 L806.2 770.2 L806.9 751.2 L807.6 770.3 L808.2 752.2 L808.9 770.5 L809.6 750.9 L810.4 776.6 L811.2 750.7 L811.6 776 L812.3 752.4 L813 770.5 L813.6 753.1 L814.3 775.7 L815 753.5 L816.2 783.3 L816.3 753.9 L817 781.9 L817.7 755.4 L818.4 783.1 L819 755.5 L820.3 789.1 L820.4 757.6 L821.1 784.8 L821.7 759.3 L822.4 788.9 L823.1 761.6 L823.6 804.8 L824.4 763.2 L825.1 792.6 L825.8 763.1 L826.5 792 L827.1 763.7 L827.8 807.3 L828.5 763.1 L829.2 799.2 L829.8 763.3 L830.5 802.1 L831.2 763.7 L832.5 819.1 L832.5 763.6 L833.2 811.5 L833.9 762.4 L834.6 808 L835.2 762.9 L835.9 800.1 L836.6 762.4 L836.6 808.3 L837.9 761.9 L838.6 804.6 L839.3 760.3 L839.6 827.4 L840.6 759.9 L841.3 799.6 L842 758 L843.2 814.9 L843.3 756.7 L844 795.2 L844.7 756.3 L845.4 808.8 L846.6 755 L846.7 817.5 L847.4 755.7 L848.2 826.5 L848.7 757.4 L849.4 808.2 L850.1 757.1 L850.8 814.9 L851.4 756.8 L852.4 817.4 L852.8 758.7 L853.5 804.4 L854.1 758.7 L854.8 807 L855.5 759.4 L855.7 810.8 L856.8 759.2 L857.5 809.7 L859 757.5 L859 835.6 L859.5 758.9 L860.2 806.5 L860.9 758.9 L861.6 805.1 L862.2 759.7 L862.3 816.6 L863.6 760.7 L864.3 798.3 L864.9 760.4 L865.6 798.6 L866.3 759.1 L866.5 810.8 L868.9 757 L868.3 802 L869 757.8 L869.8 828.2 L870.3 760.1 L871 817.5 L871.7 761.3 L872.4 812.6 L873 761.9 L873.7 814.2 L874.4 765.4 L874.8 837.3 L875.7 768.5 L876.4 826.4 L877.1 770 L877.8 824.2 L878.4 773.7 L879.1 819.8 L879.8 774.3 L880.6 830.7 L881.1 775.7 L881.8 813.6 L882.5 774.7 L883.2 830.8 L883.8 774.6 L884.7 839 L885.2 774.1 L885.9 835 L886.5 774.2 L887.2 835.7 L887.9 773.3 L888.6 841.1 L889.2 773.2 L889.7 862.2 L890.6 772.6 L891.3 841.1 L891.9 771.7 L892.6 835.8 L893.3 772 L893.8 843.9 L894.6 772.3 L895.3 818 L896 771.1 L896.7 815.2 L898 770.7 L898 834 L898.7 771.9 L899.4 834.4 L900 771.8 L900.7 827.1 L901.4 772.2 L902.1 842.3 L902.7 771.9 L903.4 834 L904.1 771.5 L904.8 842.5 L905.4 771 L905.9 871.3 L906.8 770.2 L907.5 831.6 L908.7 768.2 L908.7 824 L909.5 770.5 L910.2 809.4 L910.8 771.2 L911.5 812.6 L912.2 771.5 L912.9 837.3 L914.6 769.6 L914.2 830.6 L914.9 770.9 L915.6 834.6 L916.2 772.8 L917 842.3 L917.6 774.2 L918.3 824.1 L918.9 774.7 L919.6 833.6 L921.2 771.6 L920.4 837.3 L921.6 773.2 L922.3 825.1 L923 772.1 L923.7 820.5 L924.3 772.6 L924.5 843.9 L926.2 771.6 L926.4 824.7 L927 772.3 L927.7 823.5 L928.4 773 L929.1 837.3 L929.7 774.2 L930.4 846.1 L931.1 775.1 L931.1 852.2 L932.4 776.4 L933.1 826 L933.8 774.8 L934.5 835.1 L935.1 775 L936.1 842.3 L936.5 775.8 L937.2 822.6 L937.8 774.4 L938.5 833.1 L939.2 775.2 L939.9 834.7 L940.5 775 L941.1 841.4 L941.9 773.5 L942.6 831.3 L944.4 772.9 L943.9 834.6 L944.6 773.6 L945.2 847.3 L945.9 774.7 L946.6 825.5 L947.3 775.1 L948 832.8 L948.6 773.7 L949.4 840.6 L950 774.1 L950.7 827.6 L951.3 775.7 L952 817 L952.7 774.6 L952.7 834 L954 775.2 L955.2 849.7 L955.4 773.9 L956.1 842.8 L956.7 774.3 L957.4 828.1 L958.1 773.9 L958.8 838.4 L959.4 774 L960.1 842 L960.8 773.4 L961.5 846.2 L962.1 773.8 L962.3 857.2 L963.5 774.2 L964.2 840.4 L964.8 773.5 L965.5 833.5 L966.2 773.5 L966.9 844.3 L967.5 772.8 L967.6 848.9 L968.9 771.2 L969.6 827.9 L970.6 768.7 L970.9 823.6 L971.6 772.4 L971.8 846.4 L972 776.1"/>
<path class="d" d="M922.3 790 L922.8 753.6 L923.3 790"/>
<path d="M437.8 629.2V871.6" fill="none" stroke="#4d4d4d" stroke-width="4.4" stroke-dasharray="41.6 25.3"/>
<path d="M899.2 616.5V873" fill="none" stroke="#4d4d4d" stroke-width="4.3" stroke-dasharray="4.3 12.43"/>
<text class="h" x="175.7" y="556" font-size="33.4">(b)</text>
<text class="t" x="98.4" y="625" font-size="34" textLength="42.4" lengthAdjust="spacingAndGlyphs">10</text>
<text class="t" x="143.2" y="609" font-size="27.5" textLength="17.5" lengthAdjust="spacingAndGlyphs">0</text>
<text class="t" x="86" y="876.3" font-size="34" textLength="42.4" lengthAdjust="spacingAndGlyphs">10</text>
<text class="t" x="130.9" y="859.6" font-size="27.5" textLength="16.2" lengthAdjust="spacingAndGlyphs">−</text>
<text class="t" x="147.2" y="859.5" font-size="27.5" textLength="15.8" lengthAdjust="spacingAndGlyphs">5</text>
<text class="t" x="172.3" y="911.6" font-size="34" text-anchor="middle" textLength="75.7" lengthAdjust="spacingAndGlyphs">0.01</text>
<text class="t" x="436.3" y="911.6" font-size="34" text-anchor="middle" textLength="97.3" lengthAdjust="spacingAndGlyphs">0.124</text>
<text class="t" x="654.9" y="911.6" font-size="34" text-anchor="middle" textLength="21.6" lengthAdjust="spacingAndGlyphs">1</text>
<text class="t" x="898.2" y="911.6" font-size="34" text-anchor="middle" textLength="43.3" lengthAdjust="spacingAndGlyphs">10</text>
<text class="t" x="578.4" y="957.5" font-size="35.5" text-anchor="middle" textLength="291" lengthAdjust="spacingAndGlyphs">Frequency (kHz)</text>
<text class="t" transform="translate(28.5 805.8) rotate(-90)" font-size="37" text-anchor="middle" textLength="162.8" lengthAdjust="spacingAndGlyphs">Vibration</text>
<text class="t" transform="translate(28.5 644.8) rotate(-90)" font-size="37" text-anchor="middle" textLength="136.7" lengthAdjust="spacingAndGlyphs">velocity</text>
<text class="t" transform="translate(74.8 809.3) rotate(-90)" font-size="37" text-anchor="middle" textLength="177" lengthAdjust="spacingAndGlyphs">amplitude</text>
<text class="t" transform="translate(74.8 642.6) rotate(-90)" font-size="37" text-anchor="middle" textLength="133" lengthAdjust="spacingAndGlyphs">(mm/s)</text>
</svg>
</body>
</html>
